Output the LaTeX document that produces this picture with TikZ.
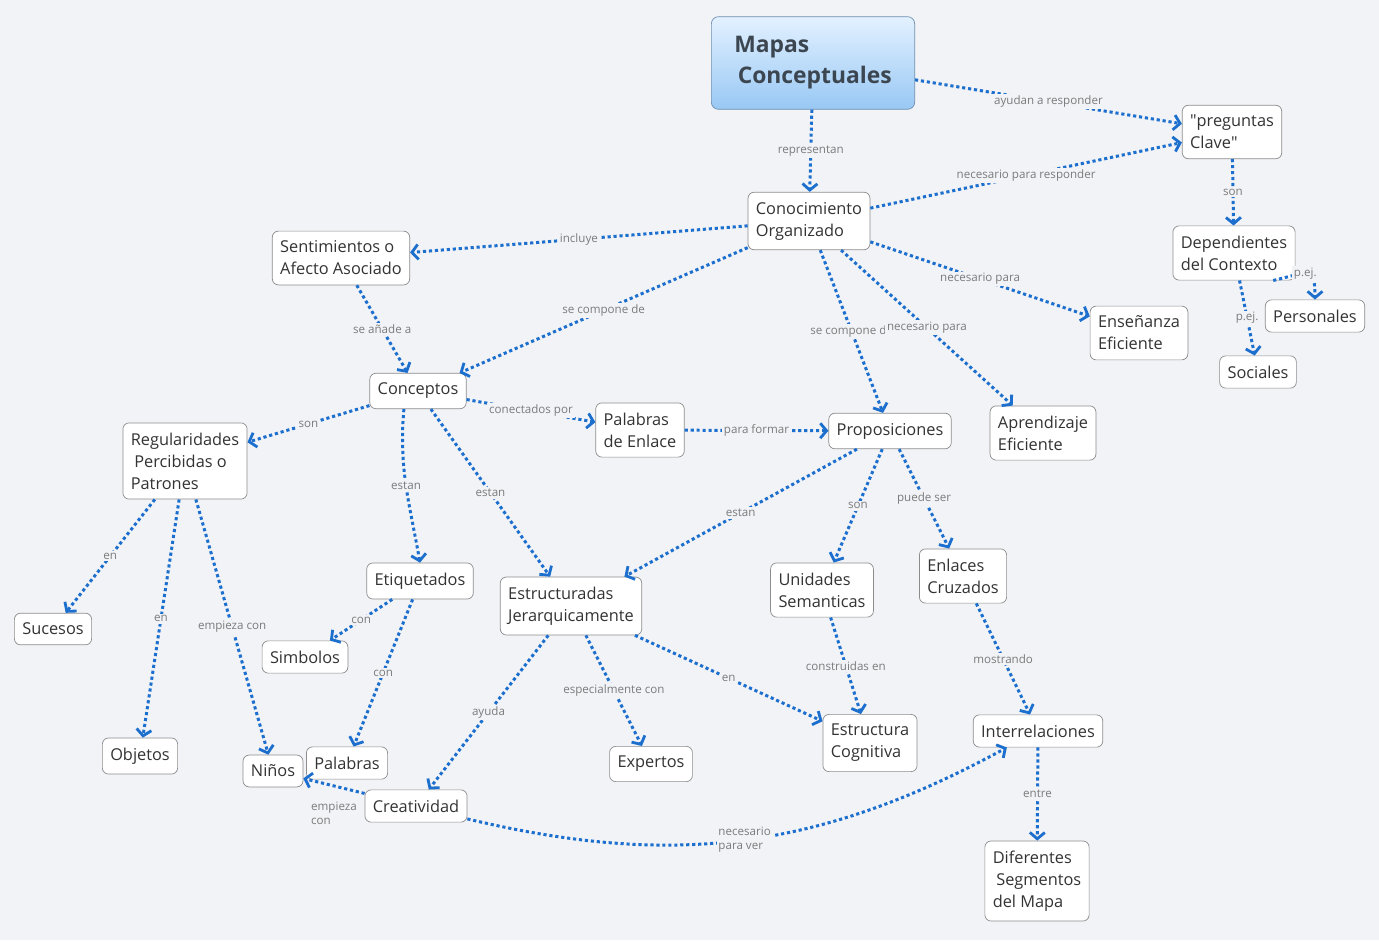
\documentclass[tikz,border=0pt]{standalone}
\usepackage{fontspec}
\setmainfont{Open Sans}
\usepackage{xcolor}
\usetikzlibrary{arrows.meta, positioning}
\definecolor{pagebg}{HTML}{F1F3F7}
\definecolor{linkblue}{HTML}{1D6FCE}
\definecolor{nodeline}{HTML}{8C8C8C}
\definecolor{nodetext}{HTML}{333333}
\definecolor{labeltext}{HTML}{7B7B7B}
\definecolor{titletop}{HTML}{E3F1FF}
\definecolor{titlebottom}{HTML}{98C8F4}
\definecolor{titleline}{HTML}{6E8FAE}
\definecolor{titletext}{HTML}{3C4650}

\begin{document}
\begin{tikzpicture}[
    x=0.02cm, y=-0.02cm,
    cnode/.style={draw=nodeline, fill=white, rounded corners=3.5pt, align=left, text=nodetext, font=\fontsize{9.3}{12.5}\selectfont, inner xsep=4.5pt, inner ysep=5.6pt},
    titlenode/.style={draw=titleline, top color=titletop, bottom color=titlebottom, rounded corners=4pt, align=left, text=titletext, font=\fontsize{13}{17.6}\selectfont\bfseries, minimum width=115.7pt, minimum height=52.7pt},
    lbl/.style={fill=pagebg, text=labeltext, font=\fontsize{6.6}{8}\selectfont, inner sep=1pt},
    link/.style={draw=linkblue, line width=1.7pt, dash pattern=on 1.8pt off 1.6pt, -{Straight Barb[length=3.6pt, width=8.5pt, line width=1.6pt]}},
]
    \fill[pagebg] (0,0) rectangle (1379,940);
    \useasboundingbox (0,0) rectangle (1379,940);

    % Main topic
    \node[titlenode] (mapas) at (813,63) {Mapas\\\hspace{2pt}Conceptuales};

    % Upper concepts
    \node[cnode] (preguntas) at (1232,132) {\textquotedbl preguntas\\Clave\textquotedbl};
    \node[cnode] (conocimiento) at (809,221) {Conocimiento\\Organizado};
    \node[cnode] (sentimientos) at (341,258) {Sentimientos o\\Afecto Asociado};
    \node[cnode] (dependientes) at (1234,253) {Dependientes\\del Contexto};
    \node[cnode] (personales) at (1315,316) {Personales};
    \node[cnode] (sociales) at (1258,372) {Sociales};
    \node[cnode] (ensenanza) at (1139,333) {Enseñanza\\Eficiente};
    \node[cnode] (aprendizaje) at (1043,433) {Aprendizaje\\Eficiente};

    % Middle row
    \node[cnode] (conceptos) at (418,391) {Conceptos};
    \node[cnode] (enlace) at (640,430) {Palabras\\de Enlace};
    \node[cnode] (proposiciones) at (890,431) {Proposiciones};
    \node[cnode] (regularidades) at (185,461) {Regularidades\\\hspace{2pt}Percibidas o\\Patrones};

    % Lower concepts
    \node[cnode] (sucesos) at (53,629) {Sucesos};
    \node[cnode] (objetos) at (140,756) {Objetos};
    \node[cnode] (ninos) at (273,771) {Niños};
    \node[cnode] (etiquetados) at (420,581) {Etiquetados};
    \node[cnode] (simbolos) at (305,657) {Simbolos};
    \node[cnode] (palabras) at (347,763) {Palabras};
    \node[cnode] (creatividad) at (416,806) {Creatividad};
    \node[cnode] (jerarquicas) at (571,606) {Estructuradas\\Jerarquicamente};
    \node[cnode] (expertos) at (651,764) {Expertos};
    \node[cnode] (unidades) at (822,590) {Unidades\\Semanticas};
    \node[cnode] (cruzados) at (963,576) {Enlaces\\Cruzados};
    \node[cnode] (cognitiva) at (870,743) {Estructura\\Cognitiva};
    \node[cnode] (interrelaciones) at (1038,731) {Interrelaciones};
    \node[cnode] (segmentos) at (1037,881) {Diferentes\\\hspace{2pt}Segmentos\\del Mapa};

    % Links
    \draw[link] (mapas) -- node[lbl] {ayudan a responder} (preguntas);
    \draw[link] (mapas) -- node[lbl] {representan} (conocimiento);
    \draw[link] (conocimiento) -- node[lbl] {necesario para responder} (preguntas);
    \draw[link] (preguntas) -- node[lbl] {son} (dependientes);
    \draw[link] (dependientes.-35) .. controls +(35,-8) and +(0,-35) .. node[lbl, pos=0.45] {p.ej.} (personales.north);
    \draw[link] (dependientes) -- node[lbl] {p.ej.} (sociales);
    \draw[link] (conocimiento) -- node[lbl] {incluye} (sentimientos);
    \draw[link] (conocimiento) -- node[lbl] {se compone de} (conceptos);
    \draw[link] (conocimiento) -- node[lbl] {se compone de} (proposiciones);
    \draw[link] (conocimiento) -- node[lbl] {necesario para} (aprendizaje);
    \draw[link] (conocimiento) -- node[lbl] {necesario para} (ensenanza);
    \draw[link] (sentimientos) -- node[lbl] {se añade a} (conceptos);
    \draw[link] (conceptos) -- node[lbl] {son} (regularidades);
    \draw[link] (conceptos) -- node[lbl] {conectados por} (enlace);
    \draw[link] (enlace) -- node[lbl] {para formar} (proposiciones);
    \draw[link] (conceptos.-128) to[out=-95, in=100] node[lbl] {estan} (etiquetados.north);
    \draw[link] (conceptos) -- node[lbl] {estan} (jerarquicas);
    \draw[link] (proposiciones) -- node[lbl] {estan} (jerarquicas);
    \draw[link] (proposiciones) -- node[lbl] {son} (unidades);
    \draw[link] (proposiciones) -- node[lbl] {puede ser} (cruzados);
    \draw[link] (regularidades) -- node[lbl] {en} (sucesos);
    \draw[link] (regularidades) -- node[lbl] {en} (objetos);
    \draw[link] (regularidades) -- node[lbl] {empieza con} (ninos);
    \draw[link] (etiquetados) -- node[lbl] {con} (simbolos);
    \draw[link] (etiquetados) -- node[lbl] {con} (palabras);
    \draw[link] (jerarquicas) -- node[lbl] {ayuda} (creatividad);
    \draw[link] (jerarquicas) -- node[lbl] {especialmente con} (expertos);
    \draw[link] (jerarquicas) -- node[lbl] {en} (cognitiva);
    \draw[link] (unidades) -- node[lbl] {construidas en} (cognitiva);
    \draw[link] (cruzados) -- node[lbl] {mostrando} (interrelaciones);
    \draw[link] (creatividad) -- node[lbl, below, align=left, fill=none, yshift=-7pt] {empieza\\con} (ninos);
    \draw[link] (creatividad) to[bend right=21] node[lbl, align=left] {necesario\\para ver} (interrelaciones);
    \draw[link] (interrelaciones) -- node[lbl] {entre} (segmentos);
\end{tikzpicture}
\end{document}
